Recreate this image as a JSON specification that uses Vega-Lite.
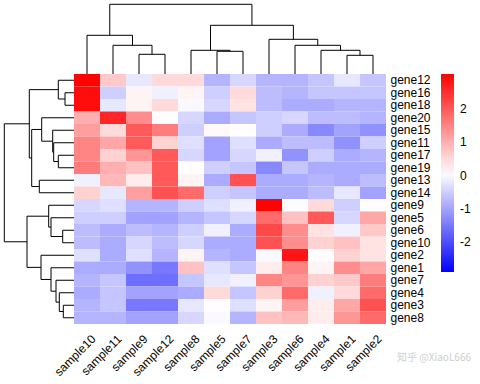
{
  "$schema": "https://vega.github.io/schema/vega-lite/v6.json",
  "padding": {"left": 3, "top": 3, "right": 0, "bottom": 0},
  "background": "white",
  "columns": 2,
  "spacing": 0,
  "bounds": "flush",
  "resolve": {"scale": {"color": "independent"}},
  "title": {"text": "知乎 @XiaoL666", "orient": "bottom", "anchor": "end", "offset": -25, "fontSize": 10, "color": "#cfcfcf", "font": "Noto Sans CJK SC", "fontWeight": "normal"},
  "datasets": {
    "colmerge": [
      {"xl": 2.5, "hl": 0, "xr": 3.5, "hr": 0, "h": 19.7},
      {"xl": 1.5, "hl": 0, "xr": 3.0, "hr": 19.7, "h": 28.7},
      {"xl": 0.5, "hl": 0, "xr": 2.25, "hr": 28.7, "h": 38.7},
      {"xl": 5.5, "hl": 0, "xr": 6.5, "hr": 0, "h": 22.7},
      {"xl": 4.5, "hl": 0, "xr": 6.0, "hr": 22.7, "h": 23.7},
      {"xl": 10.5, "hl": 0, "xr": 11.5, "hr": 0, "h": 18.7},
      {"xl": 9.5, "hl": 0, "xr": 11.0, "hr": 18.7, "h": 23.7},
      {"xl": 8.5, "hl": 0, "xr": 10.25, "hr": 23.7, "h": 28.7},
      {"xl": 7.5, "hl": 0, "xr": 9.375, "hr": 28.7, "h": 34.7},
      {"xl": 5.25, "hl": 23.7, "xr": 8.4375, "hr": 34.7, "h": 48.7},
      {"xl": 1.375, "hl": 38.7, "xr": 6.84375, "hr": 48.7, "h": 69.7}
    ],
    "rowmerge": [
      {"yl": 1.5, "hl": 0, "yr": 2.5, "hr": 0, "h": 9},
      {"yl": 0.5, "hl": 0, "yr": 2.0, "hr": 9, "h": 15.7},
      {"yl": 6.5, "hl": 0, "yr": 7.5, "hr": 0, "h": 15.7},
      {"yl": 5.5, "hl": 0, "yr": 7.0, "hr": 15.7, "h": 20.3},
      {"yl": 4.5, "hl": 0, "yr": 6.25, "hr": 20.3, "h": 21.3},
      {"yl": 3.5, "hl": 0, "yr": 5.375, "hr": 21.3, "h": 32.3},
      {"yl": 8.5, "hl": 0, "yr": 9.5, "hr": 0, "h": 34.7},
      {"yl": 4.4375, "hl": 32.3, "yr": 9.0, "hr": 34.7, "h": 42.3},
      {"yl": 1.25, "hl": 15.7, "yr": 6.71875, "hr": 42.3, "h": 44.7},
      {"yl": 12.5, "hl": 0, "yr": 13.5, "hr": 0, "h": 11.3},
      {"yl": 11.5, "hl": 0, "yr": 13.0, "hr": 11.3, "h": 23},
      {"yl": 10.5, "hl": 0, "yr": 12.25, "hr": 23, "h": 25.3},
      {"yl": 18.5, "hl": 0, "yr": 19.5, "hr": 0, "h": 10.7},
      {"yl": 17.5, "hl": 0, "yr": 19.0, "hr": 10.7, "h": 14.7},
      {"yl": 16.5, "hl": 0, "yr": 18.25, "hr": 14.7, "h": 18},
      {"yl": 15.5, "hl": 0, "yr": 17.375, "hr": 18, "h": 23},
      {"yl": 14.5, "hl": 0, "yr": 16.4375, "hr": 23, "h": 33},
      {"yl": 11.375, "hl": 25.3, "yr": 15.46875, "hr": 33, "h": 47},
      {"yl": 3.984375, "hl": 44.7, "yr": 13.421875, "hr": 47, "h": 69.7}
    ],
    "cells": [
      {"gene":"gene12","sample":"sample10","value":3.0},{"gene":"gene12","sample":"sample11","value":0.7},{"gene":"gene12","sample":"sample9","value":-0.2},{"gene":"gene12","sample":"sample12","value":0.5},{"gene":"gene12","sample":"sample8","value":0.5},{"gene":"gene12","sample":"sample5","value":-0.8},{"gene":"gene12","sample":"sample7","value":-0.4},{"gene":"gene12","sample":"sample3","value":-0.8},{"gene":"gene12","sample":"sample6","value":-0.8},{"gene":"gene12","sample":"sample4","value":-0.6},{"gene":"gene12","sample":"sample1","value":-0.2},{"gene":"gene12","sample":"sample2","value":-0.6},
      {"gene":"gene16","sample":"sample10","value":2.9},{"gene":"gene16","sample":"sample11","value":-0.5},{"gene":"gene16","sample":"sample9","value":0.2},{"gene":"gene16","sample":"sample12","value":-0.1},{"gene":"gene16","sample":"sample8","value":0.2},{"gene":"gene16","sample":"sample5","value":-0.5},{"gene":"gene16","sample":"sample7","value":0.5},{"gene":"gene16","sample":"sample3","value":-0.7},{"gene":"gene16","sample":"sample6","value":-0.8},{"gene":"gene16","sample":"sample4","value":-0.6},{"gene":"gene16","sample":"sample1","value":-0.6},{"gene":"gene16","sample":"sample2","value":-0.6},
      {"gene":"gene18","sample":"sample10","value":2.9},{"gene":"gene18","sample":"sample11","value":-0.2},{"gene":"gene18","sample":"sample9","value":0.2},{"gene":"gene18","sample":"sample12","value":0.5},{"gene":"gene18","sample":"sample8","value":0.0},{"gene":"gene18","sample":"sample5","value":-0.4},{"gene":"gene18","sample":"sample7","value":0.4},{"gene":"gene18","sample":"sample3","value":-0.7},{"gene":"gene18","sample":"sample6","value":-0.9},{"gene":"gene18","sample":"sample4","value":-0.9},{"gene":"gene18","sample":"sample1","value":-0.8},{"gene":"gene18","sample":"sample2","value":-0.8},
      {"gene":"gene20","sample":"sample10","value":1.0},{"gene":"gene20","sample":"sample11","value":2.6},{"gene":"gene20","sample":"sample9","value":1.4},{"gene":"gene20","sample":"sample12","value":0.05},{"gene":"gene20","sample":"sample8","value":-0.4},{"gene":"gene20","sample":"sample5","value":-0.9},{"gene":"gene20","sample":"sample7","value":-0.6},{"gene":"gene20","sample":"sample3","value":-0.5},{"gene":"gene20","sample":"sample6","value":-0.4},{"gene":"gene20","sample":"sample4","value":-0.7},{"gene":"gene20","sample":"sample1","value":-0.7},{"gene":"gene20","sample":"sample2","value":-0.8},
      {"gene":"gene15","sample":"sample10","value":1.2},{"gene":"gene15","sample":"sample11","value":0.5},{"gene":"gene15","sample":"sample9","value":2.0},{"gene":"gene15","sample":"sample12","value":1.6},{"gene":"gene15","sample":"sample8","value":-0.5},{"gene":"gene15","sample":"sample5","value":0.15},{"gene":"gene15","sample":"sample7","value":0.1},{"gene":"gene15","sample":"sample3","value":-0.5},{"gene":"gene15","sample":"sample6","value":-0.9},{"gene":"gene15","sample":"sample4","value":-1.3},{"gene":"gene15","sample":"sample1","value":-1.0},{"gene":"gene15","sample":"sample2","value":-1.2},
      {"gene":"gene11","sample":"sample10","value":1.5},{"gene":"gene11","sample":"sample11","value":1.1},{"gene":"gene11","sample":"sample9","value":2.0},{"gene":"gene11","sample":"sample12","value":0.6},{"gene":"gene11","sample":"sample8","value":-0.3},{"gene":"gene11","sample":"sample5","value":-1.0},{"gene":"gene11","sample":"sample7","value":-0.3},{"gene":"gene11","sample":"sample3","value":-0.9},{"gene":"gene11","sample":"sample6","value":-0.7},{"gene":"gene11","sample":"sample4","value":-0.7},{"gene":"gene11","sample":"sample1","value":-1.2},{"gene":"gene11","sample":"sample2","value":-0.5},
      {"gene":"gene17","sample":"sample10","value":1.5},{"gene":"gene17","sample":"sample11","value":0.6},{"gene":"gene17","sample":"sample9","value":1.3},{"gene":"gene17","sample":"sample12","value":2.0},{"gene":"gene17","sample":"sample8","value":-0.4},{"gene":"gene17","sample":"sample5","value":-1.0},{"gene":"gene17","sample":"sample7","value":-0.4},{"gene":"gene17","sample":"sample3","value":-0.1},{"gene":"gene17","sample":"sample6","value":-1.2},{"gene":"gene17","sample":"sample4","value":-0.5},{"gene":"gene17","sample":"sample1","value":-0.9},{"gene":"gene17","sample":"sample2","value":-0.8},
      {"gene":"gene19","sample":"sample10","value":1.6},{"gene":"gene19","sample":"sample11","value":1.0},{"gene":"gene19","sample":"sample9","value":0.8},{"gene":"gene19","sample":"sample12","value":2.0},{"gene":"gene19","sample":"sample8","value":0.1},{"gene":"gene19","sample":"sample5","value":-0.5},{"gene":"gene19","sample":"sample7","value":-0.6},{"gene":"gene19","sample":"sample3","value":-1.3},{"gene":"gene19","sample":"sample6","value":-0.6},{"gene":"gene19","sample":"sample4","value":-0.9},{"gene":"gene19","sample":"sample1","value":-0.9},{"gene":"gene19","sample":"sample2","value":-0.9},
      {"gene":"gene13","sample":"sample10","value":-0.1},{"gene":"gene13","sample":"sample11","value":0.9},{"gene":"gene13","sample":"sample9","value":0.3},{"gene":"gene13","sample":"sample12","value":2.0},{"gene":"gene13","sample":"sample8","value":0.2},{"gene":"gene13","sample":"sample5","value":-0.9},{"gene":"gene13","sample":"sample7","value":2.1},{"gene":"gene13","sample":"sample3","value":-0.9},{"gene":"gene13","sample":"sample6","value":-0.9},{"gene":"gene13","sample":"sample4","value":-0.8},{"gene":"gene13","sample":"sample1","value":-0.9},{"gene":"gene13","sample":"sample2","value":-0.7},
      {"gene":"gene14","sample":"sample10","value":0.6},{"gene":"gene14","sample":"sample11","value":-0.2},{"gene":"gene14","sample":"sample9","value":1.2},{"gene":"gene14","sample":"sample12","value":2.1},{"gene":"gene14","sample":"sample8","value":1.8},{"gene":"gene14","sample":"sample5","value":-0.5},{"gene":"gene14","sample":"sample7","value":-0.6},{"gene":"gene14","sample":"sample3","value":-0.9},{"gene":"gene14","sample":"sample6","value":-0.9},{"gene":"gene14","sample":"sample4","value":-0.7},{"gene":"gene14","sample":"sample1","value":-0.2},{"gene":"gene14","sample":"sample2","value":-1.0},
      {"gene":"gene9","sample":"sample10","value":-0.4},{"gene":"gene9","sample":"sample11","value":-0.3},{"gene":"gene9","sample":"sample9","value":-0.8},{"gene":"gene9","sample":"sample12","value":-0.8},{"gene":"gene9","sample":"sample8","value":-0.5},{"gene":"gene9","sample":"sample5","value":-0.3},{"gene":"gene9","sample":"sample7","value":-0.1},{"gene":"gene9","sample":"sample3","value":3.0},{"gene":"gene9","sample":"sample6","value":0.05},{"gene":"gene9","sample":"sample4","value":0.5},{"gene":"gene9","sample":"sample1","value":-0.5},{"gene":"gene9","sample":"sample2","value":0.1},
      {"gene":"gene5","sample":"sample10","value":-0.5},{"gene":"gene5","sample":"sample11","value":-0.5},{"gene":"gene5","sample":"sample9","value":-1.0},{"gene":"gene5","sample":"sample12","value":-1.0},{"gene":"gene5","sample":"sample8","value":-0.8},{"gene":"gene5","sample":"sample5","value":-0.6},{"gene":"gene5","sample":"sample7","value":-0.4},{"gene":"gene5","sample":"sample3","value":1.8},{"gene":"gene5","sample":"sample6","value":0.8},{"gene":"gene5","sample":"sample4","value":2.0},{"gene":"gene5","sample":"sample1","value":-0.4},{"gene":"gene5","sample":"sample2","value":1.1},
      {"gene":"gene6","sample":"sample10","value":-0.7},{"gene":"gene6","sample":"sample11","value":-0.9},{"gene":"gene6","sample":"sample9","value":-0.7},{"gene":"gene6","sample":"sample12","value":-0.8},{"gene":"gene6","sample":"sample8","value":-0.5},{"gene":"gene6","sample":"sample5","value":-0.1},{"gene":"gene6","sample":"sample7","value":-0.9},{"gene":"gene6","sample":"sample3","value":2.2},{"gene":"gene6","sample":"sample6","value":1.4},{"gene":"gene6","sample":"sample4","value":0.4},{"gene":"gene6","sample":"sample1","value":-0.1},{"gene":"gene6","sample":"sample2","value":0.7},
      {"gene":"gene10","sample":"sample10","value":-0.7},{"gene":"gene10","sample":"sample11","value":-0.9},{"gene":"gene10","sample":"sample9","value":-0.4},{"gene":"gene10","sample":"sample12","value":-0.7},{"gene":"gene10","sample":"sample8","value":-0.4},{"gene":"gene10","sample":"sample5","value":-0.9},{"gene":"gene10","sample":"sample7","value":-0.9},{"gene":"gene10","sample":"sample3","value":2.1},{"gene":"gene10","sample":"sample6","value":1.4},{"gene":"gene10","sample":"sample4","value":0.6},{"gene":"gene10","sample":"sample1","value":0.8},{"gene":"gene10","sample":"sample2","value":0.4},
      {"gene":"gene2","sample":"sample10","value":-0.3},{"gene":"gene2","sample":"sample11","value":-0.9},{"gene":"gene2","sample":"sample9","value":-0.3},{"gene":"gene2","sample":"sample12","value":-0.8},{"gene":"gene2","sample":"sample8","value":0.2},{"gene":"gene2","sample":"sample5","value":-0.8},{"gene":"gene2","sample":"sample7","value":-0.9},{"gene":"gene2","sample":"sample3","value":0.0},{"gene":"gene2","sample":"sample6","value":2.8},{"gene":"gene2","sample":"sample4","value":0.1},{"gene":"gene2","sample":"sample1","value":0.6},{"gene":"gene2","sample":"sample2","value":0.4},
      {"gene":"gene1","sample":"sample10","value":-0.9},{"gene":"gene1","sample":"sample11","value":-0.9},{"gene":"gene1","sample":"sample9","value":-1.2},{"gene":"gene1","sample":"sample12","value":-1.5},{"gene":"gene1","sample":"sample8","value":0.8},{"gene":"gene1","sample":"sample5","value":-0.3},{"gene":"gene1","sample":"sample7","value":-0.6},{"gene":"gene1","sample":"sample3","value":0.3},{"gene":"gene1","sample":"sample6","value":1.5},{"gene":"gene1","sample":"sample4","value":0.2},{"gene":"gene1","sample":"sample1","value":1.4},{"gene":"gene1","sample":"sample2","value":1.1},
      {"gene":"gene7","sample":"sample10","value":-0.8},{"gene":"gene7","sample":"sample11","value":-0.6},{"gene":"gene7","sample":"sample9","value":-1.6},{"gene":"gene7","sample":"sample12","value":-1.6},{"gene":"gene7","sample":"sample8","value":-0.6},{"gene":"gene7","sample":"sample5","value":-0.2},{"gene":"gene7","sample":"sample7","value":-0.1},{"gene":"gene7","sample":"sample3","value":1.5},{"gene":"gene7","sample":"sample6","value":1.3},{"gene":"gene7","sample":"sample4","value":0.6},{"gene":"gene7","sample":"sample1","value":0.7},{"gene":"gene7","sample":"sample2","value":1.6},
      {"gene":"gene4","sample":"sample10","value":-0.9},{"gene":"gene4","sample":"sample11","value":-0.6},{"gene":"gene4","sample":"sample9","value":-1.0},{"gene":"gene4","sample":"sample12","value":-1.0},{"gene":"gene4","sample":"sample8","value":-0.9},{"gene":"gene4","sample":"sample5","value":0.5},{"gene":"gene4","sample":"sample7","value":-0.6},{"gene":"gene4","sample":"sample3","value":0.6},{"gene":"gene4","sample":"sample6","value":1.8},{"gene":"gene4","sample":"sample4","value":-0.1},{"gene":"gene4","sample":"sample1","value":0.5},{"gene":"gene4","sample":"sample2","value":1.8},
      {"gene":"gene3","sample":"sample10","value":-0.8},{"gene":"gene3","sample":"sample11","value":-0.6},{"gene":"gene3","sample":"sample9","value":-1.5},{"gene":"gene3","sample":"sample12","value":-1.5},{"gene":"gene3","sample":"sample8","value":-0.2},{"gene":"gene3","sample":"sample5","value":0.1},{"gene":"gene3","sample":"sample7","value":-0.3},{"gene":"gene3","sample":"sample3","value":0.2},{"gene":"gene3","sample":"sample6","value":1.2},{"gene":"gene3","sample":"sample4","value":0.3},{"gene":"gene3","sample":"sample1","value":1.1},{"gene":"gene3","sample":"sample2","value":2.1},
      {"gene":"gene8","sample":"sample10","value":-0.8},{"gene":"gene8","sample":"sample11","value":-0.8},{"gene":"gene8","sample":"sample9","value":-1.0},{"gene":"gene8","sample":"sample12","value":-1.0},{"gene":"gene8","sample":"sample8","value":-0.4},{"gene":"gene8","sample":"sample5","value":0.0},{"gene":"gene8","sample":"sample7","value":-0.8},{"gene":"gene8","sample":"sample3","value":0.8},{"gene":"gene8","sample":"sample6","value":0.9},{"gene":"gene8","sample":"sample4","value":0.3},{"gene":"gene8","sample":"sample1","value":1.3},{"gene":"gene8","sample":"sample2","value":1.8}
    ]
  },
  "concat": [
    {
      "width": 70, "height": 70,
      "data": {"values": []},
      "mark": "point",
      "encoding": {}
    },
    {
      "width": 312, "height": 70,
      "data": {"name": "colmerge"},
      "layer": [
        {
          "mark": {"type": "rule", "color": "black", "strokeWidth": 1},
          "encoding": {
            "x": {"field": "xl", "type": "quantitative", "scale": {"domain": [0, 12], "nice": false, "zero": false}, "axis": null},
            "y": {"field": "hl", "type": "quantitative", "scale": {"domain": [0, 70], "nice": false}, "axis": null},
            "y2": {"field": "h"}
          }
        },
        {
          "mark": {"type": "rule", "color": "black", "strokeWidth": 1},
          "encoding": {
            "x": {"field": "xr", "type": "quantitative", "scale": {"domain": [0, 12], "nice": false, "zero": false}, "axis": null},
            "y": {"field": "hr", "type": "quantitative", "scale": {"domain": [0, 70], "nice": false}, "axis": null},
            "y2": {"field": "h"}
          }
        },
        {
          "mark": {"type": "rule", "color": "black", "strokeWidth": 1},
          "encoding": {
            "x": {"field": "xl", "type": "quantitative", "scale": {"domain": [0, 12], "nice": false, "zero": false}, "axis": null},
            "x2": {"field": "xr"},
            "y": {"field": "h", "type": "quantitative", "scale": {"domain": [0, 70], "nice": false}, "axis": null}
          }
        }
      ]
    },
    {
      "width": 70, "height": 250,
      "data": {"name": "rowmerge"},
      "layer": [
        {
          "mark": {"type": "rule", "color": "black", "strokeWidth": 1},
          "encoding": {
            "y": {"field": "yl", "type": "quantitative", "scale": {"domain": [0, 20], "reverse": true, "nice": false, "zero": false}, "axis": null},
            "x": {"field": "hl", "type": "quantitative", "scale": {"domain": [0, 70], "reverse": true, "nice": false}, "axis": null},
            "x2": {"field": "h"}
          }
        },
        {
          "mark": {"type": "rule", "color": "black", "strokeWidth": 1},
          "encoding": {
            "y": {"field": "yr", "type": "quantitative", "scale": {"domain": [0, 20], "reverse": true, "nice": false, "zero": false}, "axis": null},
            "x": {"field": "hr", "type": "quantitative", "scale": {"domain": [0, 70], "reverse": true, "nice": false}, "axis": null},
            "x2": {"field": "h"}
          }
        },
        {
          "mark": {"type": "rule", "color": "black", "strokeWidth": 1},
          "encoding": {
            "x": {"field": "h", "type": "quantitative", "scale": {"domain": [0, 70], "reverse": true, "nice": false}, "axis": null},
            "y": {"field": "yl", "type": "quantitative", "scale": {"domain": [0, 20], "reverse": true, "nice": false, "zero": false}, "axis": null},
            "y2": {"field": "yr"}
          }
        }
      ]
    },
    {
      "width": 312, "height": 250,
      "data": {"name": "cells"},
      "mark": {"type": "rect"},
      "encoding": {
        "x": {
          "field": "sample", "type": "nominal",
          "sort": ["sample10","sample11","sample9","sample12","sample8","sample5","sample7","sample3","sample6","sample4","sample1","sample2"],
          "title": null,
          "axis": {"orient": "bottom", "labelAngle": -45, "labelAlign": "right", "labelBaseline": "top", "ticks": false, "domain": false, "labelPadding": 9, "labelOffset": 3, "labelFontSize": 12, "labelFont": "Liberation Sans", "labelColor": "black"}
        },
        "y": {
          "field": "gene", "type": "nominal",
          "sort": ["gene12","gene16","gene18","gene20","gene15","gene11","gene17","gene19","gene13","gene14","gene9","gene5","gene6","gene10","gene2","gene1","gene7","gene4","gene3","gene8"],
          "title": null,
          "axis": {"orient": "right", "ticks": false, "domain": false, "labelPadding": 4, "labelFontSize": 12, "labelFont": "Liberation Sans", "labelColor": "black"}
        },
        "color": {
          "field": "value", "type": "quantitative",
          "scale": {"domain": [-2.89, 0.075, 3.04], "range": ["#0000ff", "#ffffff", "#ff0000"], "interpolate": "rgb"},
          "legend": {"title": null, "values": [-2, -1, 0, 1, 2], "labelExpr": "'' + datum.value", "gradientLength": 198, "gradientThickness": 13, "labelFontSize": 12, "labelFont": "Liberation Sans", "labelColor": "black", "labelOffset": 6, "offset": 10, "gradientStrokeWidth": 0, "direction": "vertical"}
        }
      }
    }
  ],
  "config": {"view": {"stroke": null}}
}
